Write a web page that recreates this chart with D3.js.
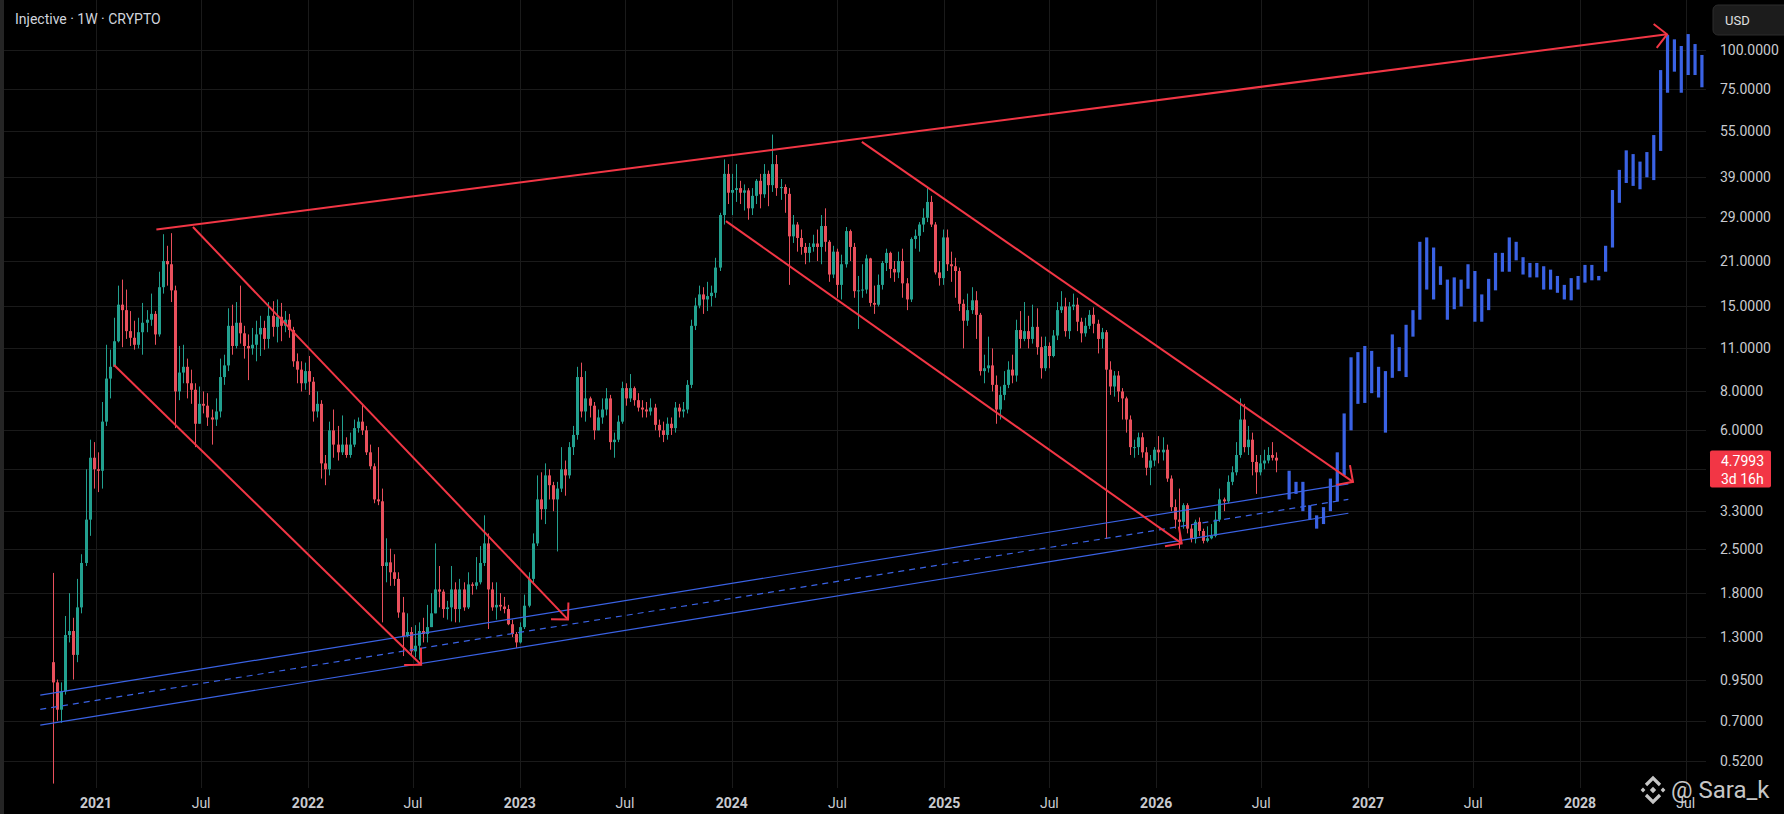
<!DOCTYPE html>
<meta charset="utf-8">
<style>
  html, body { margin: 0; padding: 0; background: #000; overflow: hidden; }
  svg { display: block; }
</style>

<!-- Load d3.js -->
<script src="https://d3js.org/d3.v7.min.js"></script>

<div id="chart"></div>

<script>
	// ---- Data ----
	// weekly candles, first one opens on this Monday
	var firstWeek = "2020-10-19";
	var firstOpen = 1.08;
	var closes = [
		0.93,0.76,0.87,1.32,1.36,1.14,1.62,2.25,3.10,4.90,
		4.50,4.45,6.40,8.80,9.60,11.6,15.2,14.6,12.5,11.9,
		11.3,12.4,13.3,13.6,14.2,12.2,17.3,21.0,20.5,16.9,
		8.0,9.2,9.6,8.5,8.1,6.3,7.3,7.2,6.6,6.5,
		6.9,8.9,9.7,13.0,11.2,13.3,12.3,11.2,11.0,11.3,
		12.2,12.8,11.8,14.0,12.9,13.9,13.0,13.6,12.6,10.0,
		9.4,8.5,9.3,8.6,6.9,7.3,4.7,4.5,6.0,5.4,
		5.1,5.4,5.0,5.4,6.1,6.4,6.0,5.1,4.6,3.6,
		3.55,2.2,2.26,2.1,2.0,1.56,1.31,1.35,1.17,1.22,
		1.36,1.33,1.40,1.55,1.85,1.82,1.60,1.62,1.85,1.60,
		1.85,1.62,1.92,1.90,1.95,2.25,2.60,1.85,1.62,1.65,
		1.63,1.60,1.43,1.33,1.25,1.40,1.64,2.00,2.60,3.60,
		3.35,4.30,4.00,3.60,3.90,4.50,4.30,5.30,5.80,8.90,
		6.90,7.60,7.20,6.00,6.60,7.00,7.60,5.50,5.60,6.40,
		8.20,7.60,8.20,7.50,7.10,7.00,6.90,7.10,6.25,6.00,
		5.80,6.30,6.10,7.10,6.90,7.00,8.40,13.0,15.1,16.4,
		15.8,16.2,16.6,20.0,29.5,40.0,34.8,35.5,36.0,34.8,
		35.4,31.0,34.0,38.0,34.4,40.0,36.8,43.0,36.0,36.3,
		34.5,25.2,27.5,24.9,23.3,22.3,23.3,23.9,23.3,27.2,
		24.2,19.0,22.5,17.6,20.5,26.2,23.3,16.8,16.9,17.0,
		21.4,15.4,15.2,17.6,20.7,22.3,19.8,19.3,21.0,17.8,
		15.8,24.7,25.3,27.5,28.9,32.5,27.5,19.3,18.5,25.0,
		20.5,20.2,19.5,15.3,13.5,14.6,15.7,14.1,9.3,9.5,
		9.7,8.4,7.0,7.8,8.4,9.4,9.0,12.6,11.8,12.5,
		11.8,12.9,11.1,9.5,11.2,10.4,12.1,14.6,15.0,12.5,
		15.0,15.2,13.4,12.3,13.0,14.1,13.2,11.8,12.4,9.4,
		8.3,9.0,8.0,7.6,6.5,5.3,5.3,5.7,5.1,4.55,
		4.8,5.2,5.1,5.2,4.2,3.4,3.1,3.05,3.45,2.9,
		2.69,3.05,2.85,2.65,2.7,2.75,3.1,3.6,3.55,4.1,
		4.4,5.0,6.5,5.3,5.6,4.75,4.4,4.7,4.8,5.0,
		4.9,4.7993
	];
	var highs = [
		2.09,0.95,0.93,1.52,1.80,1.50,2.00,2.40,4.50,5.60,
		5.50,5.10,7.40,11.3,10.9,13.8,17.5,18.3,17.0,14.5,
		13.5,13.8,15.4,14.6,16.5,14.5,19.4,25.6,23.5,25.8,
		17.5,11.2,11.3,10.2,9.4,8.5,8.3,8.0,7.9,7.0,
		7.6,10.2,10.5,14.8,15.2,15.5,17.5,13.0,12.2,12.8,
		13.5,14.0,13.5,15.5,15.6,15.8,15.4,14.5,14.2,12.9,
		10.6,10.0,9.9,10.4,8.9,8.0,7.5,5.0,6.4,7.0,
		6.2,6.7,5.7,5.9,6.5,6.6,7.3,6.2,5.4,4.7,
		5.3,3.9,2.7,2.5,2.4,2.1,1.75,1.55,1.40,1.42,
		1.45,1.50,1.65,1.80,2.60,2.20,1.85,1.70,2.20,1.95,
		2.00,1.95,2.10,1.95,2.35,2.55,3.20,2.80,1.95,1.95,
		1.80,1.75,1.65,1.48,1.35,1.45,1.78,2.10,2.80,4.30,
		4.40,4.70,4.50,4.10,4.10,5.30,4.80,5.50,6.20,9.60,
		9.90,9.30,7.70,7.40,7.00,7.60,8.20,7.80,5.90,6.70,
		8.60,8.50,9.10,8.30,7.90,7.50,7.40,7.60,7.30,6.50,
		6.40,6.60,6.60,7.40,7.30,7.40,8.70,13.6,16.0,17.5,
		17.3,18.0,17.5,21.5,30.0,44.5,43.0,40.0,43.0,38.0,
		37.0,36.0,36.0,38.5,40.0,43.0,41.0,53.5,46.0,38.5,
		37.0,36.0,29.5,28.0,26.5,24.0,24.0,25.5,26.5,29.5,
		31.0,24.5,23.5,23.0,22.0,27.0,26.5,24.0,18.8,20.5,
		22.0,21.5,17.5,19.0,21.0,23.0,22.5,21.0,22.5,23.0,
		18.5,25.0,26.5,28.0,31.0,36.0,34.0,28.0,21.0,26.5,
		26.5,22.5,21.5,20.0,15.8,16.5,17.3,16.8,14.3,10.5,
		12.0,11.0,9.0,8.3,9.3,10.0,10.5,13.6,14.5,15.5,
		14.0,15.2,14.8,12.0,12.0,11.5,12.6,15.5,16.8,16.0,
		15.5,16.5,16.0,13.8,13.8,14.6,14.9,13.6,12.8,12.6,
		10.0,9.3,9.3,8.2,7.7,6.7,5.6,5.9,5.9,5.3,
		5.0,5.3,5.75,5.7,5.4,4.3,3.6,3.9,3.5,3.5,
		3.0,3.1,3.15,2.9,2.95,3.0,3.3,3.9,3.65,4.3,
		4.6,5.5,7.6,7.3,6.2,5.9,5.0,5.0,5.2,5.3,
		5.5,5.1
	];
	var lows = [
		0.44,0.70,0.69,0.85,1.25,0.95,1.08,1.55,2.20,2.75,
		3.90,3.80,3.90,6.20,7.60,9.60,11.5,11.1,11.8,11.2,
		10.9,11.0,10.5,12.4,13.0,11.3,12.0,16.5,17.5,15.5,
		6.1,7.5,8.5,7.6,7.3,5.3,6.3,6.8,6.2,5.4,
		6.2,6.6,8.4,9.3,10.5,11.0,11.4,10.2,8.7,10.5,
		10.0,10.4,10.9,11.0,12.0,11.5,11.6,12.4,11.9,9.6,
		8.5,8.0,8.1,7.8,6.4,6.6,4.2,4.0,4.3,4.9,
		4.8,5.0,4.9,4.9,5.3,5.9,5.8,5.0,4.5,3.5,
		3.45,1.45,1.95,1.9,1.9,1.5,1.13,1.30,1.13,1.12,
		1.10,1.25,1.25,1.40,1.55,1.62,1.50,1.48,1.46,1.45,
		1.45,1.58,1.60,1.78,1.85,1.92,2.20,1.38,1.58,1.48,
		1.58,1.55,1.42,1.30,1.20,1.24,1.38,1.62,1.95,2.55,
		3.10,3.00,3.60,3.30,2.45,3.80,3.70,4.20,5.00,5.60,
		6.60,6.40,6.60,5.60,6.00,6.30,6.70,5.20,4.90,5.50,
		6.30,7.20,7.40,7.20,6.90,6.60,6.60,6.70,6.00,5.70,
		5.50,5.60,5.80,5.90,6.60,6.60,6.80,8.20,12.6,14.8,
		14.2,14.5,15.0,16.0,19.5,27.5,32.0,29.5,32.5,32.0,
		30.5,28.5,29.5,32.0,31.0,33.5,31.5,35.0,34.0,33.0,
		30.0,17.6,24.0,22.5,22.0,20.5,20.8,22.5,21.0,20.5,
		22.5,18.0,18.5,16.0,15.8,20.0,21.0,16.0,12.7,16.0,
		16.5,15.0,14.2,15.0,17.0,19.5,18.5,18.0,18.5,16.0,
		14.6,15.5,23.0,22.5,26.0,28.0,27.0,19.0,17.5,17.6,
		19.5,18.0,16.0,14.5,11.0,13.0,14.2,11.8,9.0,8.5,
		9.2,8.0,6.3,6.5,7.5,8.2,8.5,8.6,11.0,11.6,
		11.0,11.4,10.5,8.8,9.3,9.5,10.3,11.7,14.3,12.0,
		11.8,14.6,12.5,11.5,12.0,12.7,12.3,10.6,11.0,2.69,
		7.8,7.7,7.4,6.5,5.9,5.0,4.9,5.0,4.9,4.3,
		4.0,4.6,4.7,4.8,4.1,3.3,2.9,2.5,2.9,2.8,
		2.62,2.6,2.75,2.6,2.62,2.68,2.72,3.05,3.3,3.5,
		4.0,4.3,4.9,5.1,5.0,4.3,3.75,4.3,4.5,4.7,
		4.8,4.4
	];

	// projected (blue) bars pattern: low / high of every bar
	var projStart = "2026-08-18";
	var projStepDays = 11.85;
	var projLows = [
		3.6,3.75,3.3,3.1,2.9,3.0,3.3,3.55,4.3,6.0,
		7.3,7.35,7.9,7.65,5.9,8.85,9.3,8.9,12.0,13.6,
		17.0,15.8,17.6,13.6,14.7,15.0,17.1,13.4,13.4,14.6,
		16.9,19.4,19.4,21.1,19.0,18.6,18.6,17.0,17.0,16.6,
		15.8,15.7,17.0,17.9,18.2,18.2,19.4,23.2,32.3,37.4,
		36.6,35.7,39.0,38.2,47.4,72.9,85.2,72.9,83.1,83.1,
		75.9
	];
	var projHighs = [
		4.45,4.1,4.1,3.45,3.2,3.4,4.2,5.1,6.8,10.3,
		10.7,11.2,10.8,9.6,9.3,12.2,11.1,13.1,14.6,24.2,
		25.0,23.2,20.2,18.3,18.6,18.3,20.5,19.5,16.4,18.4,
		22.3,22.3,25.0,24.2,21.6,20.7,20.7,20.2,19.7,18.8,
		17.6,18.5,18.8,20.4,20.4,18.8,23.5,35.5,41.2,47.6,
		46.3,43.8,47.0,53.3,86.2,111.7,108.2,103.0,112.5,104.5,
		96.4
	];

	// axis ticks
	var priceTicks = [100, 75, 55, 39, 29, 21, 15, 11, 8, 6, 4.5, 3.3, 2.5, 1.8, 1.3, 0.95, 0.7, 0.52];
	var yearTicks = [2021, 2022, 2023, 2024, 2025, 2026, 2027, 2028];

	// drawings: [date, price] end points
	var redLines = [
		[["2021-04-15", 26.5], ["2028-05-30", 112.3]],
		[["2021-06-17", 27.0], ["2023-03-25", 1.48]],
		[["2021-02-01", 9.73], ["2022-07-15", 1.06]],
		[["2024-08-12", 50.7], ["2026-12-06", 4.10]],
		[["2023-12-22", 28.2], ["2026-02-14", 2.60]]
	];
	var blueLines = [
		[["2020-09-27", 0.847], ["2026-11-28", 4.04]],
		[["2020-09-27", 0.762], ["2026-11-28", 3.60]],
		[["2020-09-27", 0.678], ["2026-11-28", 3.25]]
	];
	var lastPrice = 4.7993, countdown = "3d 16h";

	// ---- Draw params ----
	var W = 1784, H = 814;
	var plotRight = 1706, plotBottom = 788;
	var upColor = "#22a08f", downColor = "#e9505c";
	var lineRed = "#f23645", blue = "#3a62e4";
	var textColor = "#c9cbd0", gridColor = "#1a1a1a";
	var font = "Roboto, 'Liberation Sans', sans-serif";

	var parse = d3.utcParse("%Y-%m-%d");
	var DAY = 864e5;

	var x = d3.scaleUtc()
		.domain([Date.UTC(2021, 0, 1), Date.UTC(2028, 0, 1)])
		.range([96, 1580]);
	var y = d3.scaleLog()
		.domain([0.52, 100])
		.range([761, 50]);

	// build candles
	var t0 = parse(firstWeek).getTime();
	var candles = closes.map(function(c, i) {
		var o = i === 0 ? firstOpen : closes[i - 1];
		return {
			t: new Date(t0 + i * 7 * DAY),
			o: o, c: c,
			h: Math.max(highs[i], o, c),
			l: Math.min(lows[i], o, c)
		};
	});
	var p0 = parse(projStart).getTime();
	var proj = projLows.map(function(lo, i) {
		return { t: new Date(p0 + i * projStepDays * DAY), lo: lo, hi: projHighs[i] };
	});

	var svg = d3.select("#chart").append("svg")
		.attr("width", W).attr("height", H)
		.style("background", "#000");

	svg.append("defs").append("clipPath").attr("id", "plot_clip")
		.append("rect").attr("x", 4).attr("y", 0)
		.attr("width", plotRight - 4).attr("height", plotBottom);

	// grid
	var grid = svg.append("g");
	var xTicks = [];
	yearTicks.forEach(function(yr) {
		xTicks.push({ d: new Date(Date.UTC(yr, 0, 1)), label: String(yr), bold: true });
		xTicks.push({ d: new Date(Date.UTC(yr, 6, 1)), label: "Jul", bold: false });
	});
	grid.selectAll(".vg").data(xTicks).enter().append("line")
		.attr("x1", d => Math.round(x(d.d)) + 0.5).attr("x2", d => Math.round(x(d.d)) + 0.5)
		.attr("y1", 0).attr("y2", plotBottom)
		.attr("stroke", gridColor).attr("stroke-width", 1);
	grid.selectAll(".hg").data(priceTicks).enter().append("line")
		.attr("x1", 4).attr("x2", plotRight)
		.attr("y1", d => Math.round(y(d)) + 0.5).attr("y2", d => Math.round(y(d)) + 0.5)
		.attr("stroke", gridColor).attr("stroke-width", 1);

	var plot = svg.append("g").attr("clip-path", "url(#plot_clip)");

	// candles
	var cg = plot.append("g");
	cg.selectAll(".wick").data(candles).enter().append("line")
		.attr("x1", d => Math.round(x(d.t)) + 0.5).attr("x2", d => Math.round(x(d.t)) + 0.5)
		.attr("y1", d => y(d.h)).attr("y2", d => y(d.l))
		.attr("stroke", d => d.c >= d.o ? upColor : downColor)
		.attr("stroke-width", 1);
	cg.selectAll(".body").data(candles).enter().append("rect")
		.attr("x", d => Math.round(x(d.t)) - 1)
		.attr("width", 3)
		.attr("y", d => y(Math.max(d.o, d.c)))
		.attr("height", d => Math.max(1, Math.abs(y(d.o) - y(d.c))))
		.attr("fill", d => d.c >= d.o ? upColor : downColor);

	// projected bars
	plot.append("g").selectAll("rect").data(proj).enter().append("rect")
		.attr("x", d => x(d.t) - 1.6)
		.attr("width", 3.2)
		.attr("y", d => y(d.hi))
		.attr("height", d => y(d.lo) - y(d.hi))
		.attr("fill", blue);

	// drawings
	var line = d3.line().x(d => x(parse(d[0]))).y(d => y(d[1]));
	blueLines.forEach(function(l, i) {
		plot.append("path").datum(l)
			.attr("d", line)
			.attr("fill", "none")
			.attr("stroke", blue)
			.attr("stroke-width", 1.2)
			.attr("stroke-dasharray", i === 1 ? "6,5" : null);
	});
	redLines.forEach(function(l) {
		plot.append("path").datum(l)
			.attr("d", line)
			.attr("fill", "none")
			.attr("stroke", lineRed)
			.attr("stroke-width", 2);
		// arrow head at the end
		var ax = x(parse(l[0][0])), ay = y(l[0][1]);
		var bx = x(parse(l[1][0])), by = y(l[1][1]);
		var ang = Math.atan2(ay - by, ax - bx), len = 17, spread = Math.PI / 4;
		plot.append("path")
			.attr("d", "M" + (bx + len * Math.cos(ang + spread)) + "," + (by + len * Math.sin(ang + spread)) +
				"L" + bx + "," + by +
				"L" + (bx + len * Math.cos(ang - spread)) + "," + (by + len * Math.sin(ang - spread)))
			.attr("fill", "none")
			.attr("stroke", lineRed)
			.attr("stroke-width", 2)
			.attr("stroke-linejoin", "miter");
	});

	// left edge strip
	svg.append("rect").attr("x", 0).attr("y", 0).attr("width", 4).attr("height", H).attr("fill", "#252525");

	// time axis labels
	svg.append("g").selectAll("text").data(xTicks).enter().append("text")
		.attr("x", d => x(d.d)).attr("y", 808)
		.attr("text-anchor", "middle")
		.attr("fill", textColor)
		.style("font-family", font)
		.style("font-size", "14px")
		.style("font-weight", d => d.bold ? "bold" : "normal")
		.text(d => d.label);

	// price axis labels (the one under the last price tag is hidden, as on the chart)
	var yp = y(lastPrice);
	svg.append("g").selectAll("text")
		.data(priceTicks.filter(d => Math.abs(y(d) - (yp + 8)) > 22))
		.enter().append("text")
		.attr("x", 1720).attr("y", d => y(d) + 5)
		.attr("fill", textColor)
		.style("font-family", font)
		.style("font-size", "14px")
		.text(d => d3.format(".4f")(d));

	// last price tag
	svg.append("rect").attr("x", 1710).attr("y", yp - 10).attr("width", 61).attr("height", 37)
		.attr("rx", 2).attr("fill", lineRed);
	svg.append("text").attr("x", 1721).attr("y", yp + 5).attr("fill", "#fff")
		.style("font-family", font).style("font-size", "14px").text(d3.format(".4f")(lastPrice));
	svg.append("text").attr("x", 1721).attr("y", yp + 23).attr("fill", "#fff")
		.style("font-family", font).style("font-size", "14px").text(countdown);

	// currency button
	svg.append("rect").attr("x", 1713).attr("y", 5).attr("width", 80).attr("height", 30)
		.attr("rx", 5).attr("fill", "#1c1c1c").attr("stroke", "#2c2c2c");
	svg.append("text").attr("x", 1725).attr("y", 25).attr("fill", "#e0e0e0")
		.style("font-family", font).style("font-size", "13px").text("USD");

	// title
	svg.append("text").attr("x", 15).attr("y", 24).attr("fill", "#d1d4dc")
		.style("font-family", font).style("font-size", "14px")
		.text("Injective \u00b7 1W \u00b7 CRYPTO");

	// watermark
	var wm = svg.append("g").attr("fill", "#dcdcdc").attr("opacity", 0.9);
	var lx = 1653, ly = 790;
	var dia = function(cx, cy, r) {
		return "M" + cx + "," + (cy - r) + "L" + (cx + r) + "," + cy + "L" + cx + "," + (cy + r) + "L" + (cx - r) + "," + cy + "Z";
	};
	wm.append("path").attr("d", dia(lx, ly, 3.2));
	wm.append("path").attr("d", dia(lx - 10, ly, 2.4));
	wm.append("path").attr("d", dia(lx + 10, ly, 2.4));
	wm.append("path").attr("d", "M" + (lx - 7) + "," + (ly - 5) + "L" + lx + "," + (ly - 12) + "L" + (lx + 7) + "," + (ly - 5))
		.attr("fill", "none").attr("stroke", "#dcdcdc").attr("stroke-width", 3.2);
	wm.append("path").attr("d", "M" + (lx - 7) + "," + (ly + 5) + "L" + lx + "," + (ly + 12) + "L" + (lx + 7) + "," + (ly + 5))
		.attr("fill", "none").attr("stroke", "#dcdcdc").attr("stroke-width", 3.2);
	wm.append("text").attr("x", 1671).attr("y", 798)
		.style("font-family", font).style("font-size", "24px")
		.text("@ Sara_k");
</script>
